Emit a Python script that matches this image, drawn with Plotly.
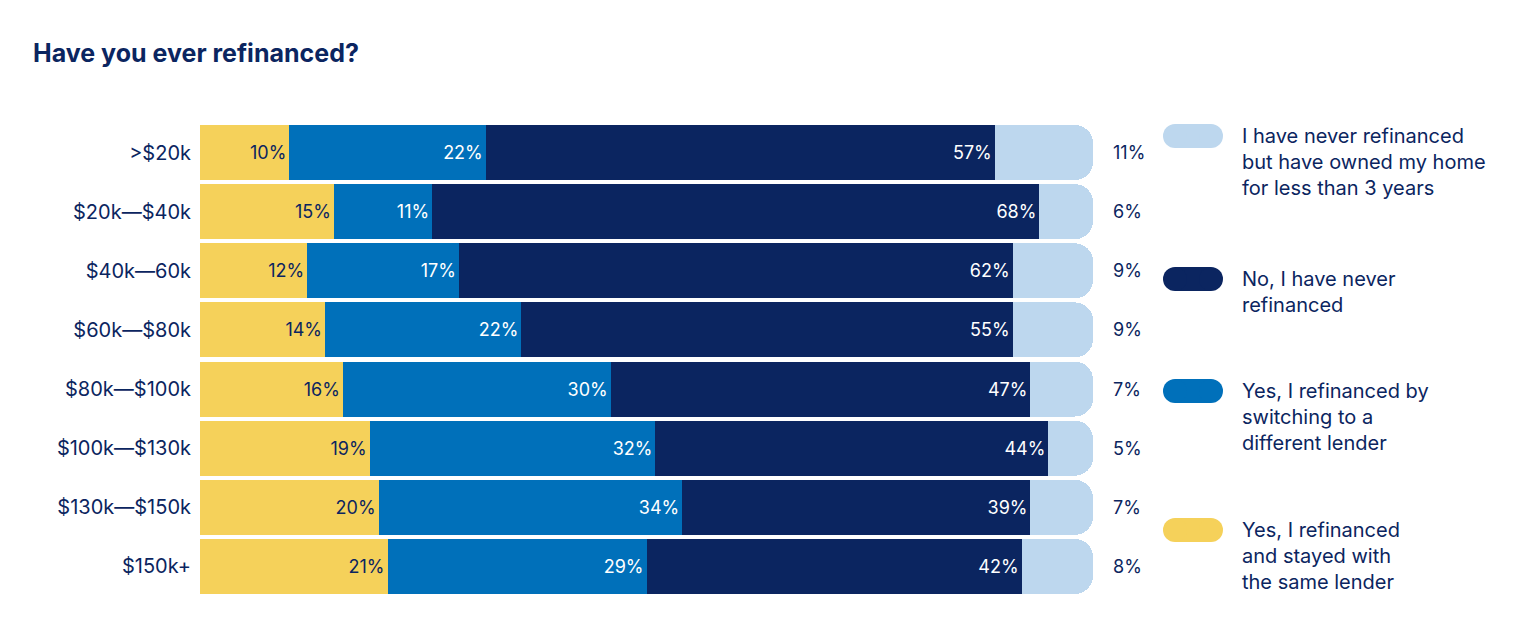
import plotly.graph_objects as go

categories = [">$20k", "$20k—$40k", "$40k—60k", "$60k—$80k", "$80k—$100k", "$100k—$130k", "$130k—$150k", "$150k+"]
same_lender = [10, 15, 12, 14, 16, 19, 20, 21]
switched = [22, 11, 17, 22, 30, 32, 34, 29]
never = [57, 68, 62, 55, 47, 44, 39, 42]
never_short = [11, 6, 9, 9, 7, 5, 7, 8]
series_names = ["Yes, I refinanced<br>and stayed with<br>the same lender",
                "Yes, I refinanced by<br>switching to a<br>different lender",
                "No, I have never<br>refinanced",
                "I have never refinanced<br>but have owned my home<br>for less than 3 years"]
colors = ["#F5D15A", "#0070BA", "#0B2560", "#BDD7EE"]
NAVY = "#0B2560"

fig = go.Figure()
for vals, col, tc in [(same_lender, colors[0], NAVY), (switched, colors[1], "white"), (never, colors[2], "white")]:
    fig.add_bar(y=categories, x=vals, orientation="h", marker=dict(color=col, line=dict(width=0)),
                text=[f"{v}%" for v in vals], textposition="inside", insidetextanchor="end",
                textfont=dict(color=tc, size=18, family="Inter"), cliponaxis=False)
fig.add_bar(y=categories, x=never_short, orientation="h", marker=dict(color=colors[3], line=dict(width=0)),
            hoverinfo="x")
tot = [a + b + c + d for a, b, c, d in zip(same_lender, switched, never, never_short)]
for cat, t, v in zip(categories, tot, never_short):
    fig.add_annotation(x=t, y=cat, text=f"{v}%", showarrow=False, xanchor="left", xshift=18,
                       font=dict(size=18, color=NAVY, family="Inter"))

# legend
W, H = 893, 473
legend_y = [128, 271, 383, 522]
order = [3, 2, 1, 0]
for py, idx in zip(legend_y, order):
    yc = (588 - py) / H
    x0, x1 = (1155 - 192) / W, (1215 - 192) / W
    rx, ry = 12 / W, 12 / H
    fig.add_shape(type="rect", xref="paper", yref="paper", x0=x0 + rx, x1=x1 - rx, y0=yc - ry, y1=yc + ry,
                  fillcolor=colors[idx], line=dict(width=0))
    for cx in (x0 + rx, x1 - rx):
        fig.add_shape(type="circle", xref="paper", yref="paper", x0=cx - rx, x1=cx + rx, y0=yc - ry, y1=yc + ry,
                      fillcolor=colors[idx], line=dict(width=0))
    fig.add_annotation(xref="paper", yref="paper", x=(1232 - 192) / W, y=yc + 14 / H, yanchor="top",
                       xanchor="left", align="left", text=series_names[idx], showarrow=False,
                       font=dict(size=20, color=NAVY, family="Inter"))

fig.update_layout(
    barmode="stack", bargap=0.07, barcornerradius=18, showlegend=False,
    width=1536, height=640, plot_bgcolor="white", paper_bgcolor="white",
    margin=dict(l=192, r=451, t=115, b=52),
    title=dict(text="<b>Have you ever refinanced?</b>", x=25 / 1536, xanchor="left", y=1 - 45 / 640,
               yanchor="middle", font=dict(size=25, color=NAVY, family="Inter")),
    xaxis=dict(visible=False, range=[0, 100]),
    yaxis=dict(autorange="reversed", showgrid=False, ticks="", ticklabelstandoff=8,
               tickfont=dict(size=20, color=NAVY, family="Inter")),
    uniformtext=dict(mode="show", minsize=10),
)
fig.write_html("out.html")
